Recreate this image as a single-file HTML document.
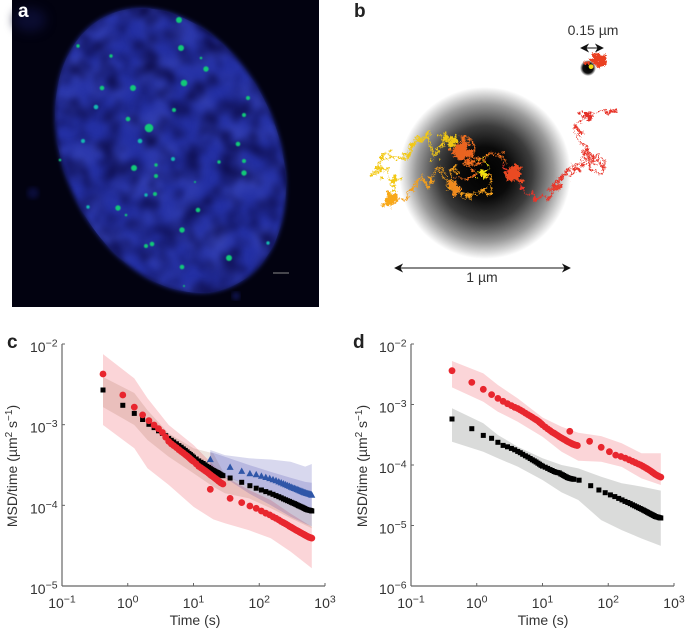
<!DOCTYPE html>
<html>
<head>
<meta charset="utf-8">
<style>
html,body{margin:0;padding:0;background:#fff}
svg{display:block}
text{font-family:"Liberation Sans",sans-serif;fill:#333}
</style>
</head>
<body>
<svg id="fig" xmlns="http://www.w3.org/2000/svg" width="685" height="630" viewBox="0 0 685 630">
<defs>
<filter id="soft" x="-10%" y="-10%" width="120%" height="120%" color-interpolation-filters="sRGB"><feGaussianBlur stdDeviation="2.5"/></filter>
<filter id="haze" x="-50%" y="-50%" width="200%" height="200%" color-interpolation-filters="sRGB"><feGaussianBlur stdDeviation="5"/></filter>
<filter id="dotblur" x="-50%" y="-50%" width="200%" height="200%" color-interpolation-filters="sRGB"><feGaussianBlur stdDeviation="0.6"/></filter>
<filter id="mottle" x="0" y="0" width="100%" height="100%" color-interpolation-filters="sRGB">
<feTurbulence type="fractalNoise" baseFrequency="0.05" numOctaves="3" seed="7"/>
<feColorMatrix type="matrix" values="0 0 0 0 0.05  0 0 0 0 0.05  0 0 0 0 0.30  2.4 0 0 0 -0.95"/>
<feGaussianBlur stdDeviation="3"/>
</filter>
<filter id="mottle-light" x="0" y="0" width="100%" height="100%" color-interpolation-filters="sRGB">
<feTurbulence type="fractalNoise" baseFrequency="0.035" numOctaves="3" seed="23"/>
<feColorMatrix type="matrix" values="0 0 0 0 0.22  0 0 0 0 0.27  0 0 0 0 0.72  1.8 0 0 0 -0.7"/>
<feGaussianBlur stdDeviation="3"/>
</filter>
<filter id="jag" x="-10%" y="-10%" width="120%" height="120%" color-interpolation-filters="sRGB">
<feTurbulence type="fractalNoise" baseFrequency="0.035" numOctaves="2" seed="4" result="n1"/>
<feDisplacementMap in="SourceGraphic" in2="n1" scale="55" xChannelSelector="R" yChannelSelector="G" result="d1"/>
<feTurbulence type="fractalNoise" baseFrequency="0.2" numOctaves="2" seed="9" result="n2"/>
<feDisplacementMap in="d1" in2="n2" scale="12" xChannelSelector="G" yChannelSelector="R"/>
</filter>
<filter id="jag2" x="-10%" y="-10%" width="120%" height="120%" color-interpolation-filters="sRGB">
<feTurbulence type="fractalNoise" baseFrequency="0.05" numOctaves="2" seed="11" result="n1"/>
<feDisplacementMap in="SourceGraphic" in2="n1" scale="50" xChannelSelector="G" yChannelSelector="R" result="d1"/>
<feTurbulence type="fractalNoise" baseFrequency="0.22" numOctaves="2" seed="3" result="n2"/>
<feDisplacementMap in="d1" in2="n2" scale="14" xChannelSelector="R" yChannelSelector="G"/>
</filter>
<radialGradient id="spot">
<stop offset="0" stop-color="#000"/><stop offset="0.3" stop-color="#0a0a0a"/><stop offset="0.55" stop-color="#3c3c3c"/><stop offset="0.8" stop-color="#9a9a9a"/><stop offset="1" stop-color="#fff"/>
</radialGradient>
<radialGradient id="smallspot"><stop offset="0" stop-color="#000"/><stop offset="0.65" stop-color="#111"/><stop offset="1" stop-color="#fff"/></radialGradient>
<clipPath id="nucleus-clip"><ellipse cx="170.5" cy="150.5" rx="149" ry="106.5" transform="rotate(64.8 170.5 150.5)"/></clipPath>
<marker id="ah" viewBox="0 0 10 10" refX="9" refY="5" markerWidth="9" markerHeight="9" orient="auto-start-reverse" markerUnits="userSpaceOnUse"><path d="M0,0 L10,5 L0,10 L3,5 z" fill="#111"/></marker>
</defs>

<!-- Panel a -->
<g id="panel-a">
<rect x="12" y="0" width="307" height="307" fill="#020210"/>
<ellipse cx="30" cy="20" rx="16" ry="12" fill="#0a0c30" filter="url(#haze)"/>
<circle cx="33" cy="193" r="6" fill="#0a0c38" filter="url(#soft)"/>
<circle cx="236" cy="296" r="4" fill="#101450" filter="url(#soft)"/>
<ellipse id="nucleus" cx="170.5" cy="150.5" rx="149" ry="106.5" transform="rotate(64.8 170.5 150.5)" fill="#2430a4" filter="url(#soft)"/>
<g clip-path="url(#nucleus-clip)">
<rect x="12" y="0" width="307" height="307" filter="url(#mottle-light)"/>
<rect x="12" y="0" width="307" height="307" filter="url(#mottle)"/>
</g>
<g id="spots" filter="url(#dotblur)"></g>
<line x1="273" y1="273" x2="289" y2="273" stroke="#8a8a8a" stroke-width="1"/>
<text x="18" y="17" font-size="19" font-weight="bold" style="fill:#fff">a</text>
</g>

<!-- Panel b -->
<g id="panel-b">
<text x="354" y="17" font-size="19" font-weight="bold" style="fill:#222">b</text>
<circle cx="485" cy="173" r="86" fill="url(#spot)"/>
<circle cx="588" cy="68" r="8" fill="url(#smallspot)"/>
<g transform="translate(340,0) scale(0.33333)" fill="none" stroke-linejoin="round">
<g filter="url(#jag)" stroke-width="5">
<polyline stroke="#e6e010" points="425,525 440,475 410,470"/>
<polyline stroke="#f2c814" points="350,430 315,400 300,450 280,475 265,400 220,430 190,480 150,460 120,490 100,530 140,505 170,540 165,570 150,595"/>
<polyline stroke="#f5a01c" points="150,595 190,610 215,570 240,530 265,560 290,505 330,535 350,500 320,560 345,565 390,600 440,565 450,590 455,540 425,525"/>
<polyline stroke="#f07020" points="340,535 410,525 380,490 340,450 380,415 410,440 390,495 440,470 475,460 500,490"/>
<polyline stroke="#e8352a" points="500,490 520,525 550,570 585,590 625,600 650,555 690,500 690,530 740,480 780,470 795,500 765,525 745,470 725,420 705,370 735,345 790,330 820,335 790,345"/>
</g>
<g filter="url(#jag2)" stroke-width="4.6">
<polyline stroke="#f2c814" points="350,430 315,400 300,450 280,475 265,400 220,430 190,480 150,460 120,490 100,530"/>
<polyline stroke="#f5a01c" points="215,570 240,530 265,560 290,505 330,535 320,560 345,565 390,600 440,565"/>
<polyline stroke="#f07020" points="340,450 380,415 410,440 390,495 440,470 475,460 500,490"/>
<polyline stroke="#e8352a" points="625,600 650,555 690,500 740,480 780,470 795,500 745,470 725,420 705,370"/>
<circle cx="150" cy="600" r="19" fill="#f8a818" stroke="none"/>
<ellipse cx="522" cy="520" rx="25" ry="27" fill="#ea4a22" stroke="none"/>
<ellipse cx="368" cy="458" rx="32" ry="26" fill="#ea6420" stroke="none"/>
<circle cx="345" cy="565" r="18" fill="#ef8a1e" stroke="none"/>
<circle cx="428" cy="525" r="10" fill="#f2e010" stroke="none"/>
<ellipse cx="335" cy="422" rx="20" ry="12" fill="#efc814" stroke="none"/>
<circle cx="652" cy="555" r="13" fill="#e84030" stroke="none"/>
<ellipse cx="738" cy="345" rx="23" ry="11" fill="#e43028" stroke="none"/>
<ellipse cx="772" cy="180" rx="29" ry="22" fill="#ea4020" stroke="none"/>
</g>
<circle cx="753" cy="200" r="7" fill="#f0e010"/>
</g>
<line x1="395" y1="268" x2="570" y2="268" stroke="#111" stroke-width="1" marker-start="url(#ah)" marker-end="url(#ah)"/>
<text x="482" y="282" font-size="14" text-anchor="middle">1 µm</text>
<text x="593" y="35" font-size="14" text-anchor="middle">0.15 µm</text>
<line x1="581" y1="48" x2="603" y2="48" stroke="#111" stroke-width="1" marker-start="url(#ah)" marker-end="url(#ah)"/>
</g>

<text x="7" y="348" font-size="19" font-weight="bold" style="fill:#222">c</text>
<text x="353" y="348" font-size="19" font-weight="bold" style="fill:#222">d</text>
<g id="chart-c"></g>
<g id="chart-d"></g>
</svg>

<script>
// ---------- Panel a spots (micrograph positions in reference pixels) ----------
var spotX = [179,181,78,111,201,206,184,102,133,248,96,174,244,128,149,140,83,238,60,173,219,244,156,134,244,156,195,146,155,88,118,126,198,182,146,152,268,229,182,184];
var spotY = [20,48,46,56,58,69,83,88,88,98,107,110,115,119,128,141,141,144,160,159,162,161,165,168,173,176,182,195,194,207,208,215,210,230,246,244,243,258,267,286];
var spotR = [3,3,1.7,1.7,1.3,2.7,3.3,2.3,3,2,2.3,2,2,2.3,4.3,2.3,2,2.3,1.3,2,1.7,2,1.7,3,2.7,2,1,1.7,2,1.7,2.7,1.3,2.3,2.7,2,2.3,1.7,3,2.3,1];
var spotG = document.getElementById('spots');
spotX.forEach(function(x,i){
  var c=document.createElementNS('http://www.w3.org/2000/svg','circle');
  
  
  c.setAttribute('cx',x);c.setAttribute('cy',spotY[i]);c.setAttribute('r',spotR[i]);
  c.setAttribute('fill',(i==10||i==15||i==16||i==19||i==27||i==29||i==36)?'#14b8b0':'#12c878');
  spotG.appendChild(c);
});

// ---------- Chart data ----------
var xTickExponents = [-1,0,1,2,3];
var yTickExponentsC = [-5,-4,-3,-2];
var yTickExponentsD = [-6,-5,-4,-3,-2];

var timesC = [0.42,0.84,1.26,1.68,2.1,2.52,2.94,3.36,3.78,4.2,4.6,5,5.5,6,6.5,7,7.5,8,8.5,9,9.5,10,11,12,13,14,15,16,17,18,19,20,21,22,23,24,25,26,27,28];
var timesD = [0.42,0.84,1.26,1.68,2.1,2.52,2.94,3.36,3.78,4.2,4.6,5,5.5,6,6.5,7,7.5,8,8.5,9,9.5,10,11,12,13,14,15,16,17,18,19,20,21,22,23,24,25,26,27,28,29,30,31,32,33,34];
var tailTimes = [36,54,72,90,108,126,144,162,180,198,216,234,252,270,288,306,324,342,360,378,396,414,432,450,468,486,504,522,540,558,576,594,612,630];
var firstTailTime = [18];
var tailTimesRedD = [26,52,78,104,130,156,182,208,234,260,286,312,338,364,390,416,442,468,494,520,546,572,598,630];

var redC = [4.25e-3,2.33e-3,1.65e-3,1.32e-3,1.12e-3,9.9e-4,8.9e-4,8.0e-4,7.0e-4,6.2e-4,5.8e-4,5.5e-4,5.2e-4,4.9e-4,4.65e-4,4.45e-4,4.26e-4,4.09e-4,3.92e-4,3.75e-4,3.62e-4,3.5e-4,3.27e-4,3.05e-4,2.92e-4,2.8e-4,2.69e-4,2.59e-4,2.49e-4,2.4e-4,2.32e-4,2.25e-4,2.18e-4,2.12e-4,2.06e-4,2e-4,1.95e-4,1.9e-4,1.87e-4,1.84e-4];
var redCFirst = [1.58e-4];
var redCTail = [1.22e-4,1.08e-4,9.8e-5,9.2e-5,8.5e-5,8.0e-5,7.6e-5,7.2e-5,6.9e-5,6.6e-5,6.3e-5,6.1e-5,5.9e-5,5.7e-5,5.5e-5,5.35e-5,5.2e-5,5.07e-5,4.95e-5,4.85e-5,4.75e-5,4.65e-5,4.55e-5,4.47e-5,4.4e-5,4.32e-5,4.25e-5,4.18e-5,4.12e-5,4.07e-5,4.02e-5,3.99e-5,3.96e-5,3.92e-5];
var blackC = [2.69e-3,1.74e-3,1.38e-3,1.16e-3,1.01e-3,9.2e-4,8.4e-4,7.8e-4,7.3e-4,6.76e-4,6.4e-4,6.1e-4,5.8e-4,5.5e-4,5.25e-4,5e-4,4.8e-4,4.6e-4,4.4e-4,4.25e-4,4.1e-4,3.95e-4,3.75e-4,3.55e-4,3.42e-4,3.3e-4,3.17e-4,3.05e-4,2.95e-4,2.85e-4,2.77e-4,2.7e-4,2.65e-4,2.6e-4,2.55e-4,2.5e-4,2.45e-4,2.4e-4,2.36e-4,2.33e-4];
var blackCTail = [2.18e-4,1.93e-4,1.75e-4,1.63e-4,1.55e-4,1.48e-4,1.42e-4,1.37e-4,1.32e-4,1.28e-4,1.24e-4,1.2e-4,1.17e-4,1.14e-4,1.12e-4,1.09e-4,1.07e-4,1.05e-4,1.03e-4,1.01e-4,9.9e-5,9.75e-5,9.6e-5,9.45e-5,9.3e-5,9.15e-5,9.0e-5,8.9e-5,8.8e-5,8.75e-5,8.7e-5,8.65e-5,8.6e-5,8.5e-5];
var blueCFirst = [3.7e-4];
var blueCTail = [2.96e-4,2.64e-4,2.47e-4,2.4e-4,2.3e-4,2.22e-4,2.15e-4,2.08e-4,2.02e-4,1.96e-4,1.9e-4,1.85e-4,1.8e-4,1.76e-4,1.72e-4,1.68e-4,1.65e-4,1.62e-4,1.6e-4,1.57e-4,1.55e-4,1.52e-4,1.5e-4,1.48e-4,1.46e-4,1.44e-4,1.43e-4,1.41e-4,1.4e-4,1.39e-4,1.38e-4,1.37e-4,1.36e-4,1.34e-4];

var bandTimesC = [0.42,1.26,2,4.2,10,20,30,70,150,300,630];
var redBandUpperC = [7.5e-3,3.75e-3,2.12e-3,9.9e-4,5.6e-4,3.16e-4,2.26e-4,1.55e-4,1.16e-4,7.9e-5,5.44e-5];
var redBandLowerC = [9.9e-4,5.1e-4,2.88e-4,1.79e-4,9.6e-5,6.7e-5,6e-5,4.9e-5,3.9e-5,2.67e-5,1.66e-5];
var blackBandUpperC = [3.9e-3,2.47e-3,1.51e-3,7.8e-4,5.1e-4,4.4e-4,2.4e-4,1.72e-4,1.36e-4,1.08e-4,8.5e-5];
var blackBandLowerC = [1.65e-3,9.9e-4,6.45e-4,4e-4,2.5e-4,1.7e-4,1.41e-4,1.22e-4,9.2e-5,6.9e-5,5.2e-5];
var blueBandTimes = [18,30,70,150,300,500,630];
var blueBandUpper = [4.85e-4,4.2e-4,3.83e-4,3.7e-4,3.47e-4,3.02e-4,3.25e-4];
var blueBandLower = [2.9e-4,2.2e-4,1.4e-4,1e-4,7.2e-5,5.9e-5,5.5e-5];
var blueInnerUpper = [4.6e-4,4e-4,3.16e-4,2.6e-4,2.2e-4,1.95e-4,1.9e-4];
var blueInnerLower = [2.85e-4,2.3e-4,1.76e-4,1.4e-4,1.09e-4,9e-5,8.5e-5];

var redD = [3.62e-3,2.32e-3,1.78e-3,1.46e-3,1.26e-3,1.13e-3,1.03e-3,9.6e-4,9.0e-4,8.6e-4,8.1e-4,7.7e-4,7.2e-4,6.8e-4,6.45e-4,6.15e-4,5.85e-4,5.6e-4,5.35e-4,5.1e-4,4.85e-4,4.6e-4,4.25e-4,3.95e-4,3.72e-4,3.5e-4,3.35e-4,3.2e-4,3.07e-4,2.95e-4,2.85e-4,2.75e-4,2.67e-4,2.6e-4,2.52e-4,2.45e-4,2.4e-4,2.35e-4,2.3e-4,2.25e-4,2.21e-4,2.18e-4,2.15e-4,2.13e-4,2.11e-4,2.1e-4];
var redDTail = [3.6e-4,2.46e-4,1.96e-4,1.66e-4,1.46e-4,1.38e-4,1.3e-4,1.22e-4,1.15e-4,1.09e-4,1.04e-4,1e-4,9.5e-5,9.1e-5,8.7e-5,8.3e-5,7.95e-5,7.6e-5,7.3e-5,7.0e-5,6.8e-5,6.6e-5,6.45e-5,6.3e-5];
var blackD = [5.75e-4,3.98e-4,3.09e-4,2.76e-4,2.37e-4,2.11e-4,2e-4,1.88e-4,1.78e-4,1.68e-4,1.6e-4,1.5e-4,1.42e-4,1.35e-4,1.28e-4,1.22e-4,1.17e-4,1.12e-4,1.07e-4,1.03e-4,9.9e-5,9.6e-5,9.2e-5,8.8e-5,8.4e-5,8.1e-5,7.8e-5,7.6e-5,7.5e-5,7.4e-5,7.1e-5,6.9e-5,6.7e-5,6.5e-5,6.35e-5,6.2e-5,6.1e-5,6e-5,5.95e-5,5.9e-5,5.85e-5,5.8e-5];
var blackDTail = [5.6e-5,4.55e-5,3.86e-5,3.49e-5,3.2e-5,3e-5,2.8e-5,2.65e-5,2.5e-5,2.4e-5,2.3e-5,2.2e-5,2.12e-5,2.04e-5,1.97e-5,1.91e-5,1.85e-5,1.8e-5,1.75e-5,1.7e-5,1.65e-5,1.61e-5,1.57e-5,1.53e-5,1.5e-5,1.47e-5,1.44e-5,1.41e-5,1.39e-5,1.38e-5,1.37e-5,1.35e-5,1.34e-5,1.33e-5];

var bandTimesD = [0.42,1.26,2.1,4.2,10,19.5,35,78,160,320,630];
var redBandUpperD = [5.23e-3,3.27e-3,2.1e-3,1.26e-3,6.1e-4,4.3e-4,3.42e-4,3e-4,2.29e-4,1.56e-4,1.56e-4];
var redBandLowerD = [1.92e-3,1.11e-3,7.6e-4,5.2e-4,2.94e-4,1.66e-4,1.18e-4,1.13e-4,9.3e-5,6e-5,4.67e-5];
var blackBandUpperD = [8.65e-4,4.89e-4,3.13e-4,2.01e-4,1.29e-4,1e-4,8.8e-5,6.4e-5,5e-5,4.4e-5,3.77e-5];
var blackBandLowerD = [2.43e-4,1.66e-4,1.29e-4,9.4e-5,5.65e-5,3.53e-5,2.64e-5,1.23e-5,8.4e-6,6.1e-6,4.6e-6];

// ---------- Drawing ----------
var NS='http://www.w3.org/2000/svg';
function el(tag,attrs,parent){
  var e=document.createElementNS(NS,tag);
  for(var k in attrs){e.setAttribute(k,attrs[k]);}
  parent.appendChild(e);
  return e;
}
function makeAxes(left,right,top,bottom,yMinExp,yMaxExp){
  return {
    x:function(t){return left+(Math.log10(t)+1)/4*(right-left);},
    y:function(v){return bottom-(Math.log10(v)-yMinExp)/(yMaxExp-yMinExp)*(bottom-top);},
    left:left,right:right,top:top,bottom:bottom
  };
}
function band(g,ax,times,upper,lower,fill,opacity,name){
  var pts=[];
  times.forEach(function(t,i){pts.push(ax.x(t).toFixed(1)+','+ax.y(upper[i]).toFixed(1));});
  for(var i=times.length-1;i>=0;i--){pts.push(ax.x(times[i]).toFixed(1)+','+ax.y(lower[i]).toFixed(1));}
  var p=el('polygon',{points:pts.join(' '),fill:fill,'fill-opacity':opacity},g);
  
  
}
function markers(g,ax,times,values,kind,color,name){
  var n=Math.min(times.length,values.length);
  for(var i=0;i<n;i++){
    var cx=ax.x(times[i]),cy=ax.y(values[i]),m;
    if(kind==='circle'){m=el('circle',{cx:cx.toFixed(1),cy:cy.toFixed(1),r:3.4,fill:color},g);}
    else if(kind==='square'){m=el('rect',{x:(cx-2.5).toFixed(1),y:(cy-2.5).toFixed(1),width:5,height:5,fill:color},g);}
    else{m=el('polygon',{points:(cx).toFixed(1)+','+(cy-3.8).toFixed(1)+' '+(cx-3.5).toFixed(1)+','+(cy+2.6).toFixed(1)+' '+(cx+3.5).toFixed(1)+','+(cy+2.6).toFixed(1),fill:color},g);}
    
    
  }
}
function powerLabel(g,x,y,exp,anchor,name){
  var t=el('text',{x:x,y:y,'font-size':14,'text-anchor':anchor},g);
  
  
  var a=el('tspan',{},t);a.textContent='10';
  var b=el('tspan',{dy:-5.5,'font-size':10.5},t);
  b.textContent=(exp<0?'\u2212':'')+Math.abs(exp);
}
function drawAxes(g,ax,yExps,yMinExp,titleX,titleMidY,timeX){
  var axisColor='#666';
  var yl=el('line',{x1:ax.left,y1:ax.top,x2:ax.left,y2:ax.bottom,stroke:axisColor,'stroke-width':1.2},g);
  
  
  var xl=el('line',{x1:ax.left,y1:ax.bottom,x2:ax.right,y2:ax.bottom,stroke:axisColor,'stroke-width':1.2},g);
  
  
  xTickExponents.forEach(function(e){
    var px=ax.x(Math.pow(10,e));
    var tk=el('line',{x1:px,y1:ax.bottom,x2:px,y2:ax.bottom-3,stroke:axisColor,'stroke-width':1},g);
    
    
    powerLabel(g,px,608,e,'middle','x-tick-label');
  });
  yExps.forEach(function(e){
    var py=ax.y(Math.pow(10,e));
    var tk=el('line',{x1:ax.left,y1:py,x2:ax.left+3,y2:py,stroke:axisColor,'stroke-width':1},g);
    
    
    powerLabel(g,ax.left-32,py+8,e,'start','y-tick-label');
  });
  var xt=el('text',{x:timeX,y:625,'font-size':14,'text-anchor':'middle'},g);
  
  
  xt.textContent='Time (s)';
  var yt=el('text',{transform:'translate('+titleX+','+titleMidY+') rotate(-90)','font-size':14,'text-anchor':'middle'},g);
  
  
  var a=el('tspan',{},yt);a.textContent='MSD/time (µm';
  var b=el('tspan',{dy:-5,'font-size':10},yt);b.textContent='2';
  var c=el('tspan',{dy:5},yt);c.textContent=' s';
  var d=el('tspan',{dy:-5,'font-size':10},yt);d.textContent='\u22121';
  var f=el('tspan',{dy:5},yt);f.textContent=')';
}

var axC=makeAxes(62,325,344,586,-5,-2);
var gC=document.getElementById('chart-c');
band(gC,axC,bandTimesC,redBandUpperC,redBandLowerC,'#e8202e',0.188,'red-band');
band(gC,axC,bandTimesC,blackBandUpperC,blackBandLowerC,'#7a2c00',0.13,'black-band');
band(gC,axC,blueBandTimes,blueBandUpper,blueBandLower,'#3c3caa',0.2,'blue-band');
band(gC,axC,blueBandTimes,blueInnerUpper,blueInnerLower,'#3c3caa',0.2,'blue-band-inner');
drawAxes(gC,axC,yTickExponentsC,-5,17,466,195);
markers(gC,axC,firstTailTime,blueCFirst,'triangle','#2f56a8','blue-point');
markers(gC,axC,tailTimes,blueCTail,'triangle','#2f56a8','blue-point');
markers(gC,axC,timesC,blackC,'square','#000','black-point');
markers(gC,axC,tailTimes,blackCTail,'square','#000','black-point');
markers(gC,axC,timesC,redC,'circle','#e8262e','red-point');
markers(gC,axC,firstTailTime,redCFirst,'circle','#e8262e','red-point');
markers(gC,axC,tailTimes,redCTail,'circle','#e8262e','red-point');

var axD=makeAxes(411,674,344,586,-6,-2);
var gD=document.getElementById('chart-d');
band(gD,axD,bandTimesD,redBandUpperD,redBandLowerD,'#e8202e',0.188,'red-band');
band(gD,axD,bandTimesD,blackBandUpperD,blackBandLowerD,'#3a4038',0.19,'black-band');
drawAxes(gD,axD,yTickExponentsD,-6,367,466,543);
markers(gD,axD,timesD,blackD,'square','#000','black-point');
markers(gD,axD,tailTimes,blackDTail,'square','#000','black-point');
markers(gD,axD,timesD,redD,'circle','#e8262e','red-point');
markers(gD,axD,tailTimesRedD,redDTail,'circle','#e8262e','red-point');
</script>
</body>
</html>
